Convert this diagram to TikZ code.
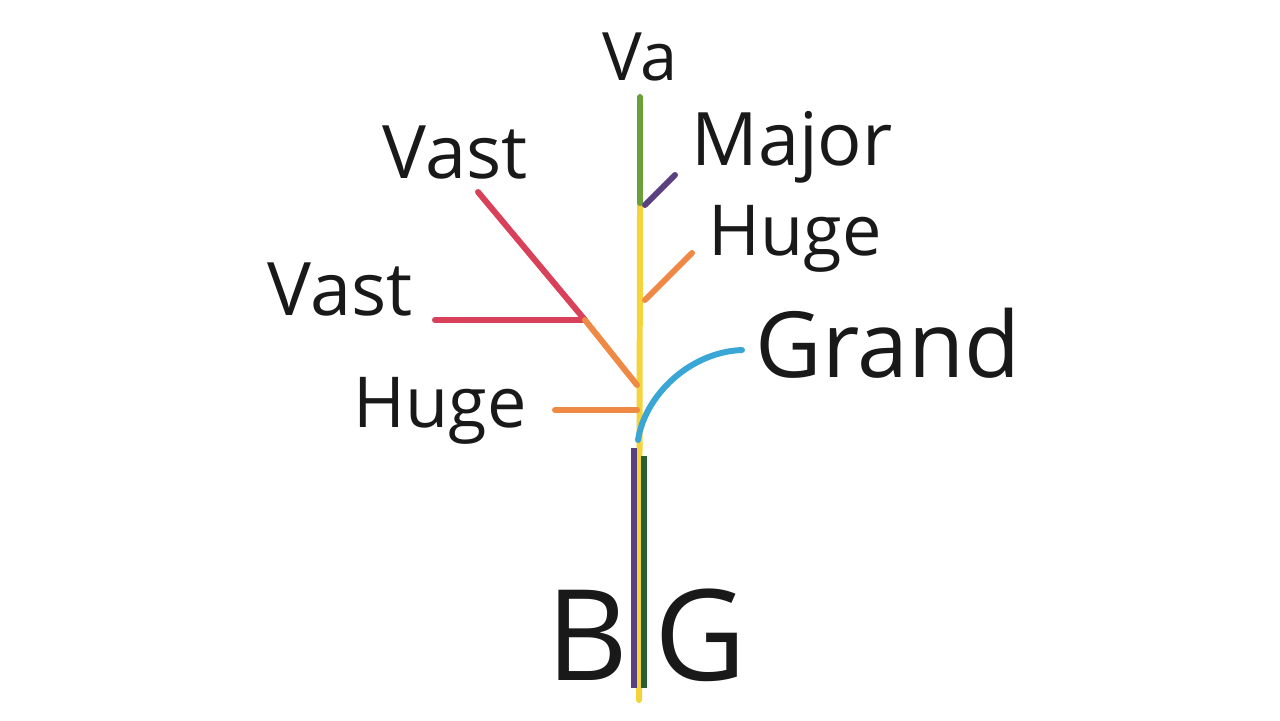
\documentclass[tikz,border=0pt]{standalone}
\usepackage{fontspec}
\setmainfont{Open Sans}
\definecolor{cyel}{HTML}{F5D33A}
\definecolor{cgrn}{HTML}{6A9F3A}
\definecolor{cpur}{HTML}{5A4080}
\definecolor{corg}{HTML}{EE8A45}
\definecolor{cred}{HTML}{D9405A}
\definecolor{cblu}{HTML}{3AA6D6}
\definecolor{cdgr}{HTML}{2F6E3A}
\begin{document}
\begin{tikzpicture}[x=0.02cm,y=-0.02cm,
  br/.style={line width=3.4pt,line cap=round},
  lbl/.style={inner sep=0pt,anchor=base,text=black!90}]
\useasboundingbox (0,0) rectangle (1280,720);
\fill[white] (0,0) rectangle (1280,720);
\coordinate (top) at (640,97);
\coordinate (j1) at (640,203);
\coordinate (j3) at (637,385);
\coordinate (j4) at (637,410);
\coordinate (j5) at (638,440);
\coordinate (bot) at (639,700);
\coordinate (r) at (585,320);
\coordinate (pm) at (675,175);
\coordinate (ho) at (692,253);
\coordinate (gr) at (742,350);
\coordinate (v1) at (478,192);
\coordinate (v2) at (435,320);
\coordinate (hl) at (555,410);
\draw[br,cyel] (j1) -- (bot);
\draw[br,cgrn] (top) -- (j1);
\draw[br,cpur] (645,205) -- (pm);
\draw[br,corg] (645,300) -- (ho);
\draw[br,cblu] (j5) .. controls (645,395) and (690,352) .. (gr);
\draw[br,cred] (v1) -- (r);
\draw[br,cred] (v2) -- (r);
\draw[br,corg] (r) -- (j3);
\draw[br,corg] (hl) -- (j4);
\draw[line width=3.2pt,cpur] (634,448) -- (634,688);
\draw[line width=3.6pt,cdgr!85!black] (644,456) -- (644,688);
\node[lbl,font=\fontsize{38}{40}\selectfont] (va) at (640,80) {Va};
\node[lbl,font=\fontsize{42}{44}\selectfont] (mj) at (792,165) {Major};
\node[lbl,font=\fontsize{40}{42}\selectfont] (hu1) at (795,255) {Huge};
\node[lbl,font=\fontsize{52}{54}\selectfont] (gd) at (888,377) {Grand};
\node[lbl,font=\fontsize{42}{44}\selectfont] (vs1) at (455,178) {Vast};
\node[lbl,font=\fontsize{42}{44}\selectfont] (vs2) at (340,315) {Vast};
\node[lbl,font=\fontsize{40}{42}\selectfont] (hu2) at (440,427) {Huge};
\node[lbl,font=\fontsize{72}{74}\selectfont] (b) at (587,680) {B};
\node[lbl,font=\fontsize{72}{74}\selectfont] (g) at (701,680) {G};
\end{tikzpicture}
\end{document}
